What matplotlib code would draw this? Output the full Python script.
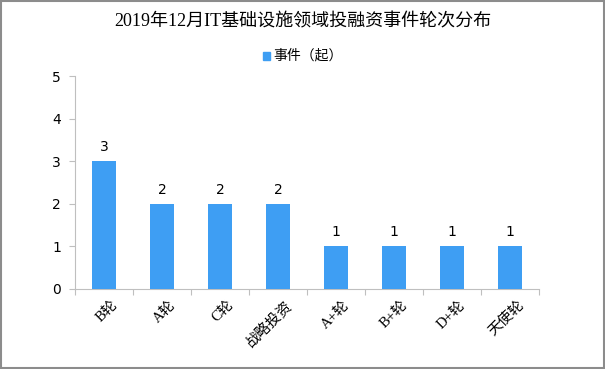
import matplotlib
matplotlib.use('Agg')
import matplotlib.pyplot as plt
from matplotlib.patches import Rectangle

# ── 데이터 ──
categories = ['B轮', 'A轮', 'C轮', '战略投资', 'A+轮', 'B+轮', 'D+轮', '天使轮']
events = [3, 2, 2, 2, 1, 1, 1, 1]
y_ticks = [0, 1, 2, 3, 4, 5]
title = '2019年12月IT基础设施领域投融资事件轮次分布'
series_name = '事件（起）'

BAR_COLOR = '#3e9ef3'
AXIS_COLOR = '#bfbfbf'
SERIF = ['Liberation Serif', 'Noto Sans CJK SC']
SANS = ['DejaVu Sans', 'Noto Sans CJK SC']

fig = plt.figure(figsize=(6.05, 3.69), dpi=100, facecolor='white')
ax = fig.add_axes([0.124, 0.217, 0.767, 0.577])

x = list(range(len(categories)))
bars = ax.bar(x, events, width=0.41, color=BAR_COLOR, zorder=3, label=series_name)
ax.bar_label(bars, padding=5, fontsize=10, family=SANS)

ax.set_xlim(-0.5, len(categories) - 0.5)
ax.set_ylim(0, 5)
ax.set_yticks(y_ticks)
ax.set_yticklabels([str(v) for v in y_ticks], family=SANS, fontsize=10)

# 카테고리 경계에 눈금
ax.set_xticks([i - 0.5 for i in range(len(categories) + 1)])
ax.set_xticklabels([])
ax.tick_params(axis='x', length=4, color=AXIS_COLOR)
ax.tick_params(axis='y', length=4, color=AXIS_COLOR, pad=6)
for i, c in enumerate(categories):
    ax.text(i + 0.12, -0.22, c, rotation=45, ha='right', va='top',
            fontsize=10.5, family=SERIF, rotation_mode='anchor')

for s in ['top', 'right']:
    ax.spines[s].set_visible(False)
for s in ['left', 'bottom']:
    ax.spines[s].set_color(AXIS_COLOR)

fig.text(0.5, 0.94, title, ha='center', va='center', fontsize=13, family=SERIF)

# 범례
fig.patches.append(Rectangle((0.434, 0.838), 0.012, 0.022, transform=fig.transFigure,
                             color=BAR_COLOR))
fig.text(0.451, 0.849, series_name, ha='left', va='center', fontsize=10, family=SANS)

# 바깥 테두리
fig.patches.append(Rectangle((0.001, 0.002), 0.997, 0.996, transform=fig.transFigure,
                             fill=False, edgecolor='#8c8c8c', linewidth=1.5))

fig.savefig('out.png', dpi=100)
